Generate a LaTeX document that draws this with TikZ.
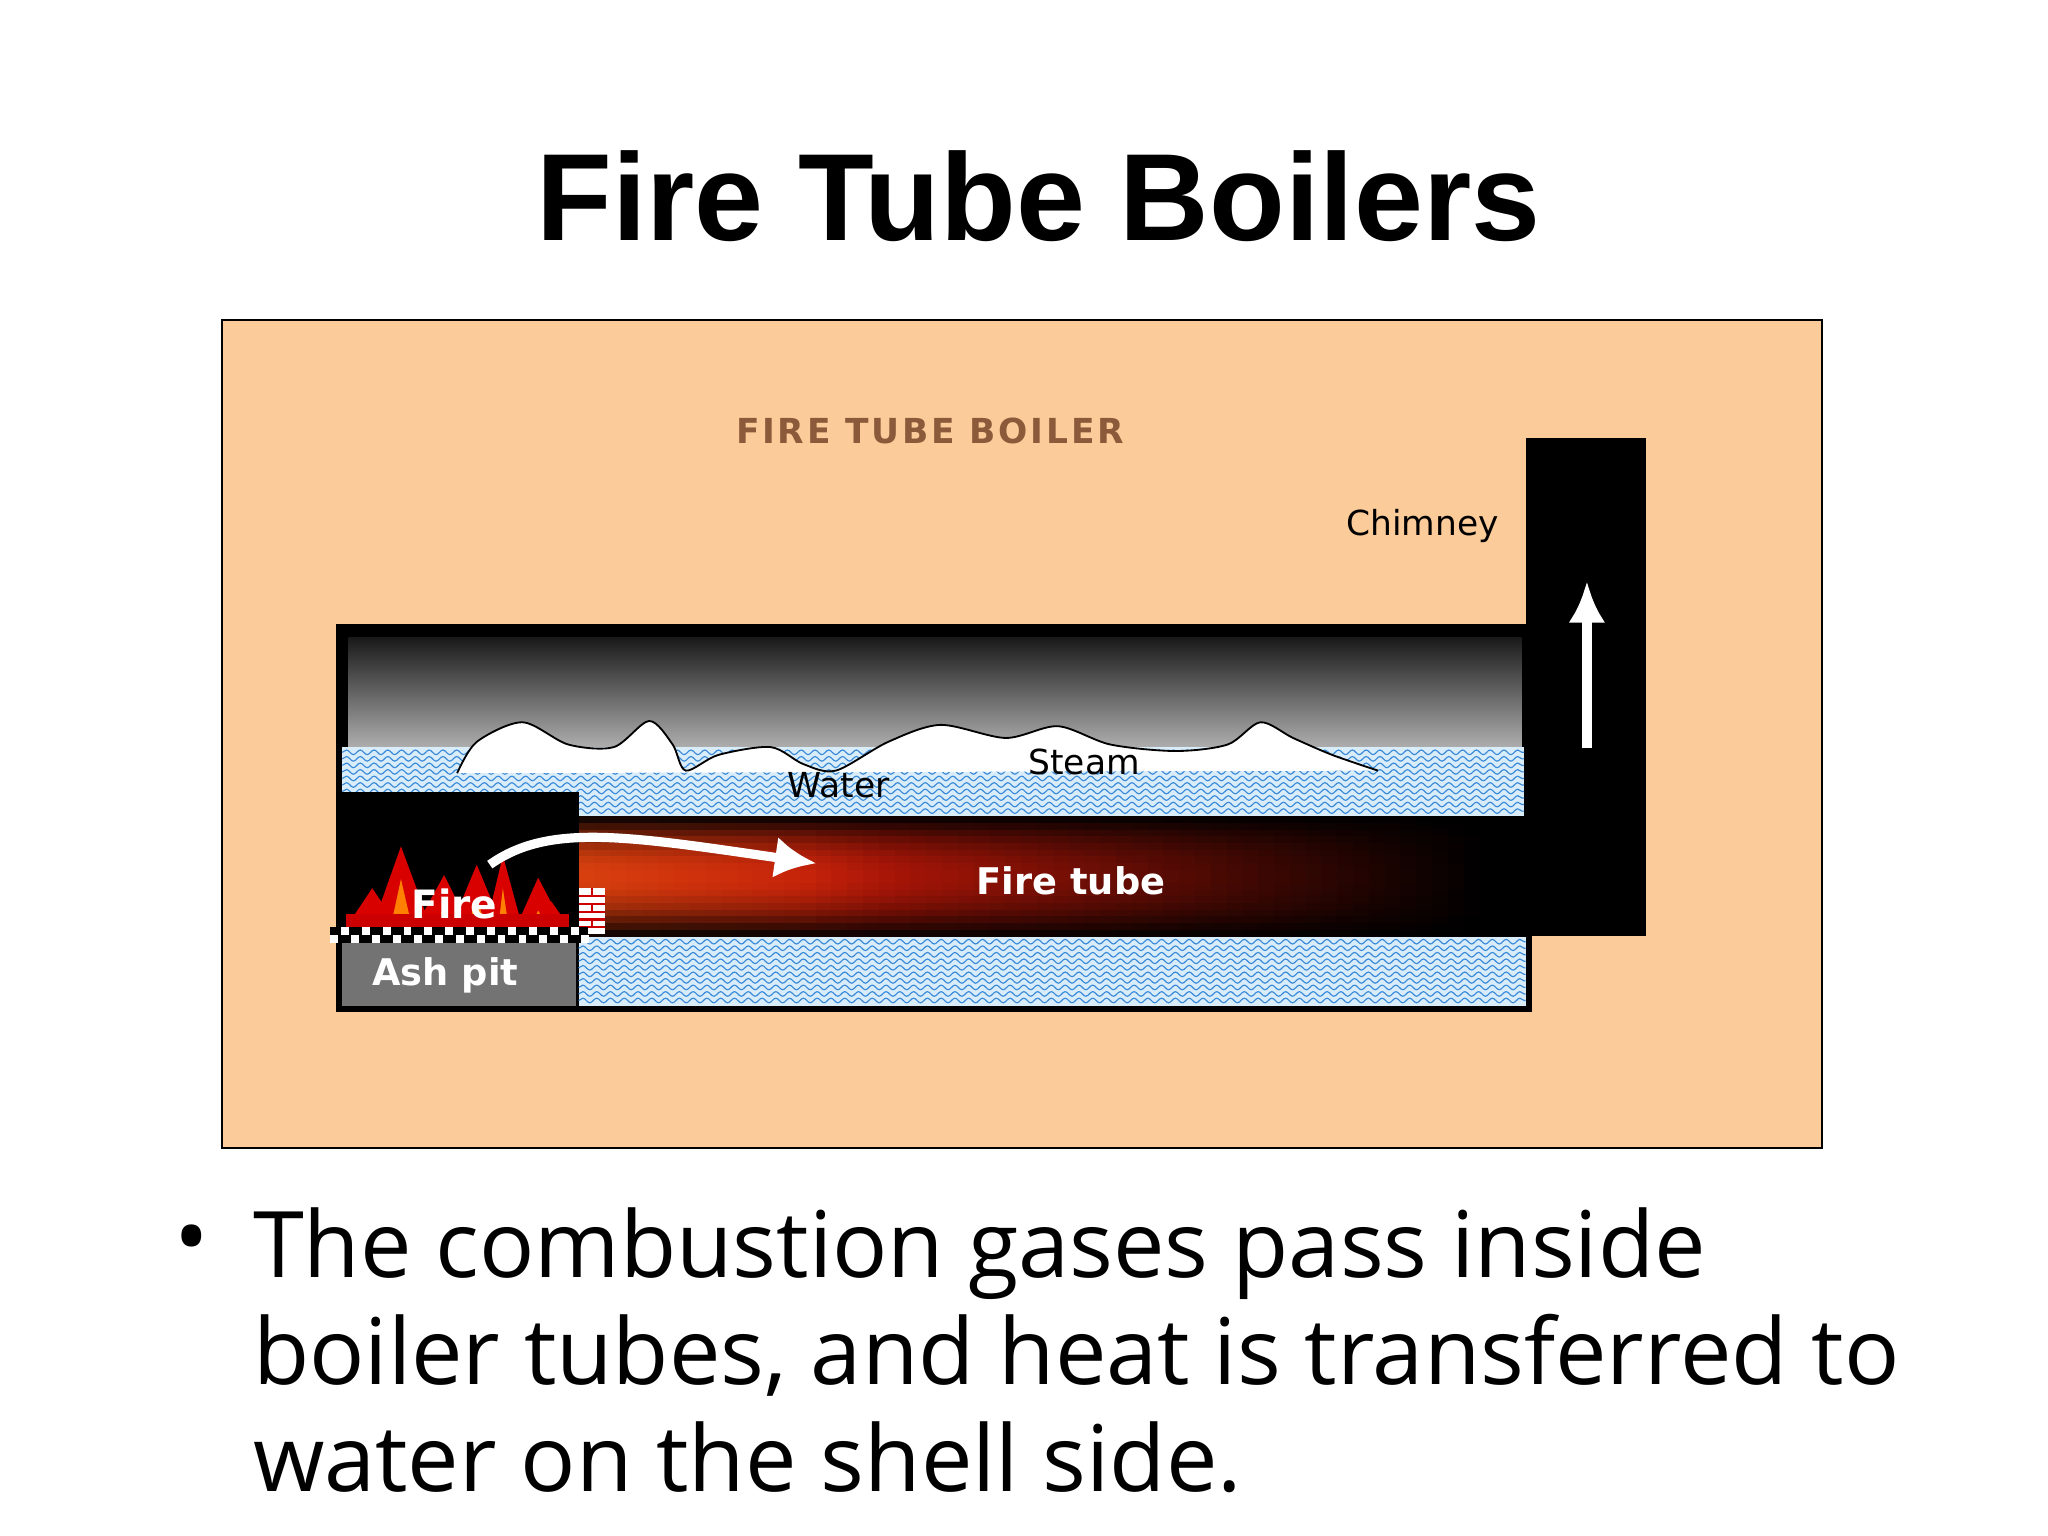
\documentclass[tikz,border=0pt]{standalone}
\usepackage{fontspec}
\setmainfont{Open Sans}
\newfontfamily\titlefont{Liberation Sans}
\newfontfamily\lblfont{DejaVu Sans}
\newfontfamily\hdrfont[LetterSpace=8]{DejaVu Sans}
\usetikzlibrary{decorations.pathmorphing,arrows.meta}
\definecolor{peach}{HTML}{FBCB9A}
\definecolor{wblue}{HTML}{D8ECFA}
\definecolor{wline}{HTML}{3A8AD8}
\definecolor{brownt}{HTML}{8A5A3A}
\definecolor{tubered}{HTML}{C01808}
\definecolor{tubeorange}{HTML}{E04A10}
\tikzset{lbl/.style={font=\lblfont\fontsize{7.5}{9}\selectfont},
 wlbl/.style={font=\lblfont\bfseries\fontsize{8}{9}\selectfont,text=white},
 body/.style={font=\fontsize{20}{24}\selectfont,anchor=base west,inner sep=0}}
\begin{document}
\begin{tikzpicture}[x=0.01cm,y=-0.01cm]
\useasboundingbox (0,0) rectangle (1568,1176);
\fill[white] (0,0) rectangle (1568,1176);
\node[font=\titlefont\bfseries\fontsize{27}{31}\selectfont] (title) at (795,150) {Fire Tube Boilers};
\draw[fill=peach,line width=0.5pt] (170,245) rectangle (1395,879);
\node[text=brownt,font=\hdrfont\bfseries\fontsize{7.5}{9}\selectfont] (hdr) at (712,330) {FIRE TUBE BOILER};
% boiler shell
\fill[black] (257,478) rectangle (1173,775);
\fill[black] (1168,335) rectangle (1260,717);
\shade[top color=black!90,bottom color=black!30] (267,488) rectangle (1165,575);
% water bands
\fill[wblue] (262,572) rectangle (1167,625);
\fill[wblue] (443,717) rectangle (1168,770);
\foreach \yy in {576,581,...,622}{\draw[wline,line width=0.25pt,decorate,decoration={snake,amplitude=0.5pt,segment length=3pt}] (262,\yy) -- (1167,\yy);}
\foreach \yy in {721,726,...,768}{\draw[wline,line width=0.25pt,decorate,decoration={snake,amplitude=0.5pt,segment length=3pt}] (443,\yy) -- (1168,\yy);}
% steam hills
\def\hills{(350,592)(365,568)(400,553)(435,570)(470,572)(497,552)(515,570)(525,590)(550,578)(590,572)(615,585)(640,590)(680,568)(720,555)(770,565)(810,556)(850,570)(900,575)(940,570)(965,553)(990,565)(1020,578)(1055,590)}
\fill[white] plot[smooth] coordinates {\hills} -- cycle;
\draw[black,line width=0.4pt] plot[smooth] coordinates {\hills};
% fire tube
\fill[black] (443,625) rectangle (1168,717);
\foreach \i in {0,...,59}{
 \foreach \j in {0,...,17}{
  \pgfmathsetmacro{\vxa}{443+\i*12.1}
  \pgfmathsetmacro{\vya}{625+\j*5.11}
  \pgfmathsetmacro{\vh}{max(0,min(1,(1130-\vxa)/520))}
  \pgfmathsetmacro{\vt}{abs((\vya+2.55-671)/46)}
  \pgfmathtruncatemacro{\vp}{100*\vh*(1-\vt*\vt)}
  \pgfmathtruncatemacro{\vo}{80*max(0,min(1,(680-\vxa)/237))}
  \fill[tubeorange!\vo!tubered!\vp!black] (\vxa,\vya) rectangle ({\vxa+12.4},{\vya+5.4});
 }}
% furnace
\fill[black] (257,606) rectangle (443,710);
\foreach \a/\b/\c/\h in {265/285/305/680,285/307/330/648,318/340/360/670,345/365/385/662,372/385/400/655,395/412/432/672,410/422/436/690}{
 \fill[red!85!black] (\a,710) -- (\b,\h) -- (\c,710) -- cycle;
 \fill[orange] ({(\a+\b)/2+3},710) -- (\b,{\h+25}) -- ({(\b+\c)/2-3},710) -- cycle;}
\fill[red!80!black] (265,710) rectangle (436,700);
% brick
\fill[white] (443,680) rectangle (463,715);
\foreach \yy in {686,692,...,710}{\draw[red!80!black,line width=0.5pt] (443,\yy) -- (463,\yy);}
\foreach \yy in {680,692,704}{\draw[red!80!black,line width=0.5pt] (453,\yy) -- (453,{\yy+6});}
% grate
\fill[black] (253,710) rectangle (450,722);
\foreach \i in {0,...,24}{
 \pgfmathsetmacro{\xa}{253+\i*8}
 \ifodd\i \fill[white] (\xa,710) rectangle ({\xa+6},716); \else \fill[white] (\xa,716) rectangle ({\xa+6},722); \fi}
% ash pit
\fill[black!55] (262,722) rectangle (441,770);
% labels
\node[wlbl,font=\lblfont\bfseries\fontsize{8}{10}\selectfont] (ash) at (341,747) {Ash pit};
\node[wlbl,font=\lblfont\bfseries\fontsize{8.5}{10}\selectfont] (fire) at (348,692) {Fire};
\node[wlbl] (ft) at (820,674) {Fire tube};
\node[lbl] (steam) at (830,583) {Steam};
\node[lbl] (water) at (642,601) {Water};
\node[lbl,anchor=east] (chim) at (1160,403) {Chimney};
% arrows
\coordinate (a1) at (375,662); \coordinate (a2) at (625,661);
\draw[white,line width=2pt,-{Latex[length=9pt,width=9pt]}] (a1) .. controls (420,630) and (480,640) .. (a2);
\coordinate (c1) at (1215,573); \coordinate (c2) at (1215,445);
\draw[white,line width=2pt,-{Latex[length=9pt,width=8pt]}] (c1) -- (c2);
% bullet
\node[body,anchor=base] (bul) at (147,972) {•};
\node[body] (l1) at (193,978) {The combustion gases pass inside};
\node[body] (l2) at (193,1060) {boiler tubes, and heat is transferred to};
\node[body] (l3) at (193,1142) {water on the shell side.};
\end{tikzpicture}
\end{document}
